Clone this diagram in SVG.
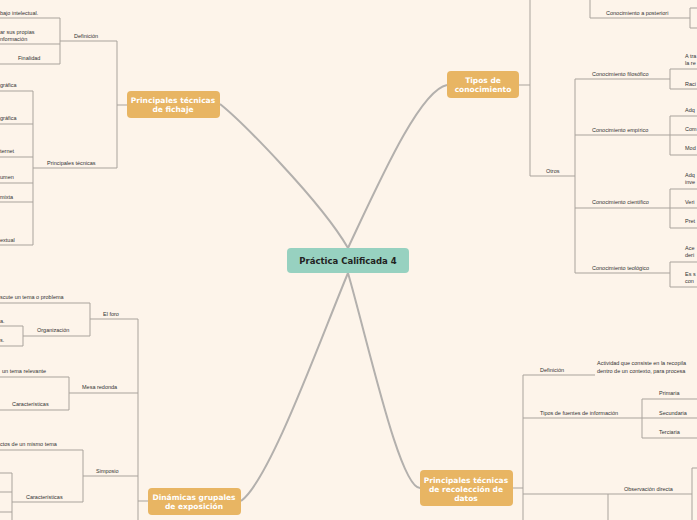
<svg xmlns="http://www.w3.org/2000/svg" width="697" height="520" viewBox="0 0 697 520">
<style>
.l{stroke:#a9a39c;stroke-width:1;fill:none}
.c{stroke:#b3b0ad;stroke-width:2;fill:none}
.t{font-family:"Liberation Sans",Arial,sans-serif;font-size:5.5px;fill:#333}
.m{fill:#e8b563}
.mt{font-family:"DejaVu Sans",sans-serif;font-size:7.5px;font-weight:bold;fill:#fff;text-anchor:middle}
</style>
<rect width="697" height="520" fill="#fdf4ea"/>
<g id="connectors">
<path class="c" d="M348,248 C320,200 240,120 220,104"/>
<path class="c" d="M348,248 C380,180 420,90 447,85"/>
<path class="c" d="M348,273 C320,340 270,480 241,501"/>
<path class="c" d="M348,273 C370,350 400,488 420,488"/>
<path class="l" d="M127,105H117M117,41V168M117,41H60M60,18V64M0,18H60M0,44H60M0,64H60M117,168H33M33,91V245M0,91H33M0,124H33M0,157H33M0,183H33M0,202H33M0,245H33"/>
<path class="l" d="M519,85H530M530,0V176M530,176H575M590,0V18M590,18H690M690,8V28M690,8H697M690,28H697M575,79V273M575,79H670M575,135H670M575,208H670M575,273H670M670,69V89M670,69H697M670,89H697M670,116V155M670,116H697M670,135H697M670,155H697M670,189V228M670,189H697M670,208H697M670,228H697M670,262V287M670,262H697M670,287H697"/>
<path class="l" d="M513,488H523M523,375V520M523,375H595M523,418H642M642,399V438M642,399H697M642,418H697M642,438H697M523,494H608M608,494V520M608,494H692M692,468V520M692,468H697"/>
<path class="l" d="M148,501H138M138,319V520M138,319H90M90,303V336M0,303H90M90,336H23M23,326V346M0,326H23M0,346H23M138,393H69M69,377V410M0,377H69M0,410H69M138,476H83M83,450V502M0,450H83M83,502H12M12,473V520M0,473H12M0,492H12M0,512H12"/>
</g>
<g id="center"><rect x="287" y="248" width="122" height="25" rx="4" fill="#97d1c0"/><text x="348" y="264" font-family="DejaVu Sans,sans-serif" font-size="8.5" font-weight="bold" fill="#222" text-anchor="middle">Práctica Calificada 4</text></g>
<g id="fichaje"><rect class="m" x="127" y="91" width="93" height="27" rx="4"/><text class="mt" x="173" y="103">Principales técnicas</text><text class="mt" x="173" y="112">de fichaje</text></g>
<g id="tipos"><rect class="m" x="447" y="71" width="72" height="27" rx="4"/><text class="mt" x="483" y="83">Tipos de</text><text class="mt" x="483" y="92">conocimiento</text></g>
<g id="dinamicas"><rect class="m" x="148" y="488" width="93" height="27" rx="4"/><text class="mt" x="194" y="500">Dinámicas grupales</text><text class="mt" x="194" y="509">de exposición</text></g>
<g id="recoleccion"><rect class="m" x="420" y="470" width="93" height="36" rx="4"/><text class="mt" x="466" y="483">Principales técnicas</text><text class="mt" x="466" y="492">de recolección de</text><text class="mt" x="466" y="501">datos</text></g>
<g id="labels">
<text class="t" x="0" y="15">bajo intelectual.</text>
<text class="t" x="0" y="34">ar sus propias</text><text class="t" x="0" y="41">nformación</text>
<text class="t" x="18" y="60">Finalidad</text>
<text class="t" x="74" y="38">Definición</text>
<text class="t" x="47" y="165">Principales técnicas</text>
<text class="t" x="0" y="87">gráfica</text><text class="t" x="0" y="120">gráfica</text><text class="t" x="0" y="153">ternet</text><text class="t" x="0" y="179">umen</text><text class="t" x="0" y="199">mixta</text><text class="t" x="0" y="242">extual</text>
<text class="t" x="606" y="15">Conocimiento a posteriori</text>
<text class="t" x="546" y="173">Otros</text>
<text class="t" x="592" y="76">Conocimiento filosófico</text>
<text class="t" x="592" y="132">Conocimiento empírico</text>
<text class="t" x="592" y="204">Conocimiento científico</text>
<text class="t" x="592" y="270">Conocimiento teológico</text>
<text class="t" x="685" y="58">A tra</text><text class="t" x="685" y="65">la re</text><text class="t" x="685" y="86">Raci</text>
<text class="t" x="685" y="112">Adq</text><text class="t" x="685" y="131">Com</text><text class="t" x="685" y="150">Mod</text>
<text class="t" x="685" y="177">Adq</text><text class="t" x="685" y="184">inve</text><text class="t" x="685" y="204">Veri</text><text class="t" x="685" y="223">Pret</text>
<text class="t" x="685" y="250">Ace</text><text class="t" x="685" y="257">deri</text><text class="t" x="685" y="276">Es s</text><text class="t" x="685" y="283">con</text>
<text class="t" x="540" y="372">Definición</text>
<text class="t" x="597" y="365">Actividad que consiste en la recopila</text><text class="t" x="597" y="373">dentro de un contexto, para procesa</text>
<text class="t" x="540" y="415">Tipos de fuentes de información</text>
<text class="t" x="659" y="395">Primaria</text><text class="t" x="659" y="415">Secundaria</text><text class="t" x="659" y="434">Terciaria</text>
<text class="t" x="624" y="491">Observación directa</text>
<text class="t" x="103" y="316">El foro</text>
<text class="t" x="0" y="299">scute un tema o problema</text>
<text class="t" x="37" y="332">Organización</text>
<text class="t" x="0" y="323">a.</text><text class="t" x="0" y="342">s.</text>
<text class="t" x="82" y="389">Mesa redonda</text>
<text class="t" x="2" y="373">un tema relevante</text>
<text class="t" x="12" y="406">Características</text>
<text class="t" x="96" y="473">Simposio</text>
<text class="t" x="0" y="446">ctos de un mismo tema</text>
<text class="t" x="26" y="499">Características</text>
</g>
</svg>
